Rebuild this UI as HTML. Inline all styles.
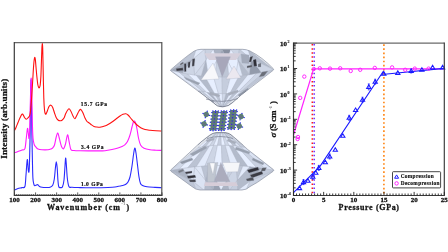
<!DOCTYPE html>
<html><head><meta charset="utf-8"><title>Raman and conductivity under pressure</title>
<style>html,body{margin:0;padding:0;background:#fff;}body{width:448px;height:252px;overflow:hidden;}svg{display:block;}</style>
</head><body>
<svg width="448" height="252" viewBox="0 0 448 252">
<defs><linearGradient id="dg1" x1="0" y1="0" x2="0" y2="1"><stop offset="0" stop-color="#eef0f4"/><stop offset="0.5" stop-color="#d6dae2"/><stop offset="1" stop-color="#e8eaee"/></linearGradient><linearGradient id="dg2" x1="0" y1="0" x2="1" y2="1"><stop offset="0" stop-color="#f4f5f8"/><stop offset="1" stop-color="#c9cdd6"/></linearGradient></defs>
<rect width="448" height="252" fill="#fff"/>
<path d="M14.50,190.00 C15.08,189.77 16.75,189.00 18.00,188.60 C19.25,188.20 20.85,187.95 22.00,187.60 C23.15,187.25 24.23,188.60 24.90,186.50 C25.57,184.40 25.60,179.50 26.00,175.00 C26.40,170.50 26.90,160.17 27.30,159.50 C27.70,158.83 28.07,169.58 28.40,171.00 C28.73,172.42 29.02,174.00 29.30,168.00 C29.58,162.00 29.88,146.33 30.10,135.00 C30.32,123.67 30.46,109.25 30.60,100.00 C30.74,90.75 30.82,79.50 30.95,79.50 C31.08,79.50 31.24,90.75 31.40,100.00 C31.56,109.25 31.73,125.00 31.90,135.00 C32.07,145.00 32.23,152.83 32.40,160.00 C32.57,167.17 32.67,174.00 32.90,178.00 C33.13,182.00 33.48,182.72 33.80,184.00 C34.12,185.28 34.35,185.53 34.80,185.70 C35.25,185.87 36.00,185.17 36.50,185.00 C37.00,184.83 37.30,184.45 37.80,184.70 C38.30,184.95 38.80,186.07 39.50,186.50 C40.20,186.93 40.92,187.13 42.00,187.30 C43.08,187.47 44.67,187.50 46.00,187.50 C47.33,187.50 48.88,187.67 50.00,187.30 C51.12,186.93 51.98,186.68 52.70,185.30 C53.42,183.92 53.85,181.88 54.30,179.00 C54.75,176.12 55.07,170.85 55.40,168.00 C55.73,165.15 56.00,161.90 56.30,161.90 C56.60,161.90 56.93,164.98 57.20,168.00 C57.47,171.02 57.63,176.87 57.90,180.00 C58.17,183.13 58.37,185.53 58.80,186.80 C59.23,188.07 59.88,187.60 60.50,187.60 C61.12,187.60 61.92,188.07 62.50,186.80 C63.08,185.53 63.58,183.47 64.00,180.00 C64.42,176.53 64.73,169.67 65.00,166.00 C65.27,162.33 65.38,158.33 65.60,158.00 C65.82,157.67 66.02,160.67 66.30,164.00 C66.58,167.33 66.87,174.25 67.30,178.00 C67.73,181.75 68.12,184.95 68.90,186.50 C69.68,188.05 70.15,187.12 72.00,187.30 C73.85,187.48 77.00,187.52 80.00,187.60 C83.00,187.68 86.67,187.78 90.00,187.80 C93.33,187.82 97.00,187.75 100.00,187.70 C103.00,187.65 105.50,187.62 108.00,187.50 C110.50,187.38 113.00,187.25 115.00,187.00 C117.00,186.75 118.58,186.28 120.00,186.00 C121.42,185.72 122.53,185.58 123.50,185.30 C124.47,185.02 125.05,184.85 125.80,184.30 C126.55,183.75 127.30,183.22 128.00,182.00 C128.70,180.78 129.33,179.67 130.00,177.00 C130.67,174.33 131.40,169.83 132.00,166.00 C132.60,162.17 133.13,157.00 133.60,154.00 C134.07,151.00 134.40,148.17 134.80,148.00 C135.20,147.83 135.55,150.17 136.00,153.00 C136.45,155.83 137.00,161.00 137.50,165.00 C138.00,169.00 138.50,173.92 139.00,177.00 C139.50,180.08 139.92,182.08 140.50,183.50 C141.08,184.92 141.42,184.95 142.50,185.50 C143.58,186.05 144.92,186.48 147.00,186.80 C149.08,187.12 152.58,187.25 155.00,187.40 C157.42,187.55 160.42,187.65 161.50,187.70" fill="none" stroke="#2a2aff" stroke-width="1.1" stroke-linejoin="round"/>
<path d="M14.50,152.80 C15.08,152.58 16.75,151.97 18.00,151.50 C19.25,151.03 20.85,150.48 22.00,150.00 C23.15,149.52 24.18,150.60 24.90,148.60 C25.62,146.60 25.87,141.35 26.30,138.00 C26.73,134.65 27.17,129.33 27.50,128.50 C27.83,127.67 28.05,131.33 28.30,133.00 C28.55,134.67 28.77,139.00 29.00,138.50 C29.23,138.00 29.47,136.42 29.70,130.00 C29.93,123.58 30.17,108.62 30.40,100.00 C30.63,91.38 30.87,79.63 31.10,78.30 C31.33,76.97 31.60,85.05 31.80,92.00 C32.00,98.95 32.10,112.33 32.30,120.00 C32.50,127.67 32.68,133.92 33.00,138.00 C33.32,142.08 33.73,143.02 34.20,144.50 C34.67,145.98 35.17,146.15 35.80,146.90 C36.43,147.65 36.97,148.52 38.00,149.00 C39.03,149.48 40.33,149.67 42.00,149.80 C43.67,149.93 46.50,149.93 48.00,149.80 C49.50,149.67 50.22,149.32 51.00,149.00 C51.78,148.68 52.12,148.57 52.70,147.90 C53.28,147.23 53.95,146.65 54.50,145.00 C55.05,143.35 55.48,140.00 56.00,138.00 C56.52,136.00 57.10,133.17 57.60,133.00 C58.10,132.83 58.60,135.67 59.00,137.00 C59.40,138.33 59.58,139.42 60.00,141.00 C60.42,142.58 60.92,145.20 61.50,146.50 C62.08,147.80 62.83,149.22 63.50,148.80 C64.17,148.38 64.83,146.32 65.50,144.00 C66.17,141.68 66.92,135.40 67.50,134.90 C68.08,134.40 68.43,138.57 69.00,141.00 C69.57,143.43 70.07,147.92 70.90,149.50 C71.73,151.08 72.48,150.28 74.00,150.50 C75.52,150.72 77.33,150.73 80.00,150.80 C82.67,150.87 86.67,150.88 90.00,150.90 C93.33,150.92 97.50,150.92 100.00,150.90 C102.50,150.88 103.00,151.03 105.00,150.80 C107.00,150.57 109.83,149.97 112.00,149.50 C114.17,149.03 116.33,148.50 118.00,148.00 C119.67,147.50 120.87,147.03 122.00,146.50 C123.13,145.97 123.88,145.63 124.80,144.80 C125.72,143.97 126.63,143.13 127.50,141.50 C128.37,139.87 129.25,137.42 130.00,135.00 C130.75,132.58 131.43,129.17 132.00,127.00 C132.57,124.83 133.00,123.00 133.40,122.00 C133.80,121.00 134.03,120.83 134.40,121.00 C134.77,121.17 135.17,121.67 135.60,123.00 C136.03,124.33 136.52,126.50 137.00,129.00 C137.48,131.50 137.88,135.28 138.50,138.00 C139.12,140.72 139.78,143.58 140.70,145.30 C141.62,147.02 142.45,147.55 144.00,148.30 C145.55,149.05 148.00,149.48 150.00,149.80 C152.00,150.12 154.08,150.10 156.00,150.20 C157.92,150.30 160.58,150.37 161.50,150.40" fill="none" stroke="#ff1aff" stroke-width="1.1" stroke-linejoin="round"/>
<path d="M14.50,130.60 C14.75,130.08 15.42,128.85 16.00,127.50 C16.58,126.15 17.33,124.12 18.00,122.50 C18.67,120.88 19.33,119.18 20.00,117.80 C20.67,116.42 21.47,114.70 22.00,114.20 C22.53,113.70 22.78,114.25 23.20,114.80 C23.62,115.35 23.98,116.77 24.50,117.50 C25.02,118.23 25.72,119.15 26.30,119.20 C26.88,119.25 27.40,118.53 28.00,117.80 C28.60,117.07 29.40,116.77 29.90,114.80 C30.40,112.83 30.65,109.80 31.00,106.00 C31.35,102.20 31.70,96.50 32.00,92.00 C32.30,87.50 32.53,83.33 32.80,79.00 C33.07,74.67 33.35,69.33 33.60,66.00 C33.85,62.67 34.10,60.45 34.30,59.00 C34.50,57.55 34.63,57.30 34.80,57.30 C34.97,57.30 35.10,57.38 35.30,59.00 C35.50,60.62 35.75,64.17 36.00,67.00 C36.25,69.83 36.50,73.08 36.80,76.00 C37.10,78.92 37.48,82.58 37.80,84.50 C38.12,86.42 38.43,87.00 38.70,87.50 C38.97,88.00 39.15,87.92 39.40,87.50 C39.65,87.08 39.95,86.92 40.20,85.00 C40.45,83.08 40.70,79.83 40.90,76.00 C41.10,72.17 41.23,66.67 41.40,62.00 C41.57,57.33 41.75,51.13 41.90,48.00 C42.05,44.87 42.17,43.20 42.30,43.20 C42.43,43.20 42.55,43.20 42.70,48.00 C42.85,52.80 43.02,63.67 43.20,72.00 C43.38,80.33 43.58,91.67 43.80,98.00 C44.02,104.33 44.23,107.33 44.50,110.00 C44.77,112.67 45.10,113.42 45.40,114.00 C45.70,114.58 45.95,114.08 46.30,113.50 C46.65,112.92 47.05,111.67 47.50,110.50 C47.95,109.33 48.43,107.38 49.00,106.50 C49.57,105.62 50.28,105.03 50.90,105.20 C51.52,105.37 52.10,106.20 52.70,107.50 C53.30,108.80 53.90,111.28 54.50,113.00 C55.10,114.72 55.67,116.60 56.30,117.80 C56.93,119.00 57.68,119.70 58.30,120.20 C58.92,120.70 59.38,120.80 60.00,120.80 C60.62,120.80 61.33,120.67 62.00,120.20 C62.67,119.73 63.33,119.20 64.00,118.00 C64.67,116.80 65.18,114.53 66.00,113.00 C66.82,111.47 68.07,109.05 68.90,108.80 C69.73,108.55 70.32,110.30 71.00,111.50 C71.68,112.70 72.35,114.80 73.00,116.00 C73.65,117.20 74.23,118.87 74.90,118.70 C75.57,118.53 76.32,116.28 77.00,115.00 C77.68,113.72 78.37,111.93 79.00,111.00 C79.63,110.07 80.13,109.07 80.80,109.40 C81.47,109.73 82.30,111.57 83.00,113.00 C83.70,114.43 84.33,116.58 85.00,118.00 C85.67,119.42 86.37,120.72 87.00,121.50 C87.63,122.28 88.13,122.20 88.80,122.70 C89.47,123.20 90.13,123.87 91.00,124.50 C91.87,125.13 93.05,126.08 94.00,126.50 C94.95,126.92 95.70,126.88 96.70,127.00 C97.70,127.12 98.95,127.28 100.00,127.20 C101.05,127.12 102.07,126.75 103.00,126.50 C103.93,126.25 104.77,126.03 105.60,125.70 C106.43,125.37 106.93,125.12 108.00,124.50 C109.07,123.88 110.67,122.92 112.00,122.00 C113.33,121.08 114.67,120.00 116.00,119.00 C117.33,118.00 118.83,116.78 120.00,116.00 C121.17,115.22 122.03,114.67 123.00,114.30 C123.97,113.93 124.97,113.68 125.80,113.80 C126.63,113.92 127.13,114.22 128.00,115.00 C128.87,115.78 130.00,117.33 131.00,118.50 C132.00,119.67 133.00,120.92 134.00,122.00 C135.00,123.08 135.88,124.05 137.00,125.00 C138.12,125.95 139.37,126.95 140.70,127.70 C142.03,128.45 143.45,129.07 145.00,129.50 C146.55,129.93 148.17,130.08 150.00,130.30 C151.83,130.52 154.08,130.68 156.00,130.80 C157.92,130.92 160.58,130.97 161.50,131.00" fill="none" stroke="#ff1010" stroke-width="1.1" stroke-linejoin="round"/>
<path d="M14.3,42.6H161.8" stroke="#6a6a6a" stroke-width="1.1"/>
<path d="M161.8,42.1V195.4" stroke="#505050" stroke-width="1.2"/>
<path d="M14.3,42.1V195.4H162.4" fill="none" stroke="#3a3a3a" stroke-width="1.2"/>
<path d="M14.50,195.4V192.40 M16.61,195.4V194.10 M18.71,195.4V194.10 M20.82,195.4V194.10 M22.93,195.4V194.10 M25.04,195.4V194.10 M27.14,195.4V194.10 M29.25,195.4V194.10 M31.36,195.4V194.10 M33.46,195.4V194.10 M35.57,195.4V192.40 M37.68,195.4V194.10 M39.78,195.4V194.10 M41.89,195.4V194.10 M44.00,195.4V194.10 M46.11,195.4V194.10 M48.21,195.4V194.10 M50.32,195.4V194.10 M52.43,195.4V194.10 M54.53,195.4V194.10 M56.64,195.4V192.40 M58.75,195.4V194.10 M60.85,195.4V194.10 M62.96,195.4V194.10 M65.07,195.4V194.10 M67.17,195.4V194.10 M69.28,195.4V194.10 M71.39,195.4V194.10 M73.50,195.4V194.10 M75.60,195.4V194.10 M77.71,195.4V192.40 M79.82,195.4V194.10 M81.92,195.4V194.10 M84.03,195.4V194.10 M86.14,195.4V194.10 M88.25,195.4V194.10 M90.35,195.4V194.10 M92.46,195.4V194.10 M94.57,195.4V194.10 M96.67,195.4V194.10 M98.78,195.4V192.40 M100.89,195.4V194.10 M102.99,195.4V194.10 M105.10,195.4V194.10 M107.21,195.4V194.10 M109.31,195.4V194.10 M111.42,195.4V194.10 M113.53,195.4V194.10 M115.64,195.4V194.10 M117.74,195.4V194.10 M119.85,195.4V192.40 M121.96,195.4V194.10 M124.06,195.4V194.10 M126.17,195.4V194.10 M128.28,195.4V194.10 M130.38,195.4V194.10 M132.49,195.4V194.10 M134.60,195.4V194.10 M136.71,195.4V194.10 M138.81,195.4V194.10 M140.92,195.4V192.40 M143.03,195.4V194.10 M145.13,195.4V194.10 M147.24,195.4V194.10 M149.35,195.4V194.10 M151.46,195.4V194.10 M153.56,195.4V194.10 M155.67,195.4V194.10 M157.78,195.4V194.10 M159.88,195.4V194.10 M161.99,195.4V192.40" stroke="#3a3a3a" stroke-width="0.8"/>
<g font-family="Liberation Serif, serif" font-weight="bold" font-size="7" text-anchor="middle" fill="#111" stroke="#111" stroke-width="0.28"><text x="14.50" y="201.9">100</text><text x="35.57" y="201.9">200</text><text x="56.64" y="201.9">300</text><text x="77.71" y="201.9">400</text><text x="98.78" y="201.9">500</text><text x="119.85" y="201.9">600</text><text x="140.92" y="201.9">700</text><text x="161.99" y="201.9">800</text></g>
<g font-family="Liberation Serif, serif" font-weight="bold" font-size="8" fill="#111" stroke="#111" stroke-width="0.28"><text x="46.9" y="210.4" textLength="73" lengthAdjust="spacing">Wavenumber (cm</text><text x="121.3" y="205.4" font-size="4.4" textLength="4.2" lengthAdjust="spacingAndGlyphs" fill="#9a9a9a" stroke="none">-1</text><text x="126.6" y="210.4">)</text></g>
<text transform="translate(6.8,158.7) rotate(-90)" font-family="Liberation Serif, serif" font-weight="bold" font-size="9.1" fill="#111" stroke="#111" stroke-width="0.28" textLength="80" lengthAdjust="spacing">Intensity (arb.units)</text>
<g font-family="Liberation Serif, serif" font-weight="bold" font-size="5.5" fill="#111" stroke="#111" stroke-width="0.2" letter-spacing="0.3"><text x="80.8" y="106.4" textLength="26.5" lengthAdjust="spacing">15.7 GPa</text><text x="80.9" y="149.3" textLength="23" lengthAdjust="spacing">3.4 GPa</text><text x="80.9" y="186" textLength="22.2" lengthAdjust="spacing">1.0 GPa</text></g>
<clipPath id="c1"><path d="M170.6,69.9 C178,63.5 186,56.5 194,51.2 Q197.5,49.3 201,49.3 L242.5,49.3 Q246.5,49.4 250,51 C258,55 266,61 273.5,68.9 Q273.8,69.6 273.2,70.3 L241.2,95 L233,102.3 Q228.5,106.8 222.5,107 Q216.5,106.8 214,103.3 L202,94 L170.9,70.9 Q170.3,70.4 170.6,69.9 Z"/></clipPath><clipPath id="c2"><path d="M170.5,170.2 L192.7,149.6 C198,144.5 203,140 207,137.2 C210.5,134.5 213,132.8 216,132.6 L225.5,132.6 C228.5,132.8 231,134.5 234,137.2 C238,140.5 243,145 247.6,149.4 L273.4,169.6 Q274.2,170.6 273,171.4 L257.5,182.3 L250,186.5 Q246.5,189.9 242,190 L200,190 Q195.5,189.8 191.6,186.3 L171,171.3 Q170.2,170.8 170.5,170.2 Z"/></clipPath>
<g><path d="M170.6,69.9 C178,63.5 186,56.5 194,51.2 Q197.5,49.3 201,49.3 L242.5,49.3 Q246.5,49.4 250,51 C258,55 266,61 273.5,68.9 Q273.8,69.6 273.2,70.3 L241.2,95 L233,102.3 Q228.5,106.8 222.5,107 Q216.5,106.8 214,103.3 L202,94 L170.9,70.9 Q170.3,70.4 170.6,69.9 Z" fill="#e3e7ee"/><g clip-path="url(#c1)" stroke="#a6aebd" stroke-width="0.3" stroke-linejoin="round"><path d="M170.60,70.20 L179.17,72.28 L203.00,91.65 L199.15,90.72 Z" fill="#e2eafa" /><path d="M199.15,90.72 L203.00,91.65 L222.50,107.50 Z" fill="#c5cddd" /><path d="M179.17,72.28 L187.75,73.97 L206.86,92.41 L203.00,91.65 Z" fill="#c9d1e1" /><path d="M203.00,91.65 L206.86,92.41 L222.50,107.50 Z" fill="#e7efff" /><path d="M187.75,73.97 L196.32,75.28 L210.72,93.00 L206.86,92.41 Z" fill="#e7efff" /><path d="M206.86,92.41 L210.72,93.00 L222.50,107.50 Z" fill="#acb4c4" /><path d="M196.32,75.28 L204.90,76.19 L214.58,93.41 L210.72,93.00 Z" fill="#b3bbcb" /><path d="M210.72,93.00 L214.58,93.41 L222.50,107.50 Z" fill="#dfe7f7" /><path d="M204.90,76.19 L213.47,76.71 L218.44,93.65 L214.58,93.41 Z" fill="#e7efff" /><path d="M214.58,93.41 L218.44,93.65 L222.50,107.50 Z" fill="#bec6d6" /><path d="M213.47,76.71 L222.05,76.85 L222.30,93.71 L218.44,93.65 Z" fill="#d7dfef" /><path d="M218.44,93.65 L222.30,93.71 L222.50,107.50 Z" fill="#e7efff" /><path d="M222.05,76.85 L230.62,76.60 L226.16,93.59 L222.30,93.71 Z" fill="#c5cddd" /><path d="M222.30,93.71 L226.16,93.59 L222.50,107.50 Z" fill="#d0d8e8" /><path d="M230.62,76.60 L239.20,75.96 L230.01,93.31 L226.16,93.59 Z" fill="#e7efff" /><path d="M226.16,93.59 L230.01,93.31 L222.50,107.50 Z" fill="#b0b8c8" /><path d="M239.20,75.96 L247.78,74.92 L233.87,92.84 L230.01,93.31 Z" fill="#bbc3d3" /><path d="M230.01,93.31 L233.87,92.84 L222.50,107.50 Z" fill="#e6eefe" /><path d="M247.78,74.92 L256.35,73.51 L237.73,92.20 L233.87,92.84 Z" fill="#e2eafa" /><path d="M233.87,92.84 L237.73,92.20 L222.50,107.50 Z" fill="#bbc3d3" /><path d="M256.35,73.51 L264.93,71.70 L241.59,91.39 L237.73,92.20 Z" fill="#cdd5e5" /><path d="M237.73,92.20 L241.59,91.39 L222.50,107.50 Z" fill="#e7efff" /><path d="M264.93,71.70 L273.50,69.50 L245.45,90.40 L241.59,91.39 Z" fill="#bec6d6" /><path d="M241.59,91.39 L245.45,90.40 L222.50,107.50 Z" fill="#c9d1e1" /><path d="M196.00,49.30 L204.67,49.30 L192.89,59.26 Z" fill="#e2eafa" /><path d="M204.67,49.30 L213.33,49.30 L205.84,60.46 Z" fill="#c9d1e1" /><path d="M213.33,49.30 L222.00,49.30 L216.63,60.84 Z" fill="#acb4c4" /><path d="M222.00,49.30 L230.67,49.30 L227.42,60.80 Z" fill="#8890a0" /><path d="M230.67,49.30 L239.33,49.30 L238.20,60.34 Z" fill="#cdd5e5" /><path d="M239.33,49.30 L248.00,49.30 L251.15,59.03 Z" fill="#e2eafa" /><path d="M196.00,49.30 L183.30,59.75 L170.60,70.20 L192.89,59.26 Z" fill="#bec6d6" /><path d="M204.67,49.30 L192.89,59.26 L194.61,75.05 L205.84,60.46 Z" fill="#d4dcec" /><path d="M213.33,49.30 L205.84,60.46 L208.33,76.45 L216.63,60.84 Z" fill="#e7efff" /><path d="M222.00,49.30 L216.63,60.84 L222.05,76.85 L227.42,60.80 Z" fill="#9ea6b6" /><path d="M230.67,49.30 L227.42,60.80 L235.77,76.26 L238.20,60.34 Z" fill="#e6eefe" /><path d="M239.33,49.30 L238.20,60.34 L249.49,74.67 L251.15,59.03 Z" fill="#c5cddd" /><path d="M248.00,49.30 L251.15,59.03 L273.50,69.50 L260.75,59.40 Z" fill="#b3bbcb" /><path d="M192.89,59.26 L170.60,70.20 L182.60,73.00 Z" fill="#a1a9b9" /><path d="M192.89,59.26 L182.60,73.00 L194.61,75.05 Z" fill="#cdd5e5" /><path d="M205.84,60.46 L194.61,75.05 L201.47,75.87 Z" fill="#d0d8e8" /><path d="M205.84,60.46 L201.47,75.87 L208.33,76.45 Z" fill="#acb4c4" /><path d="M216.63,60.84 L208.33,76.45 L215.19,76.77 Z" fill="#e7efff" /><path d="M216.63,60.84 L215.19,76.77 L222.05,76.85 Z" fill="#c9d1e1" /><path d="M227.42,60.80 L222.05,76.85 L228.91,76.68 Z" fill="#bec6d6" /><path d="M227.42,60.80 L228.91,76.68 L235.77,76.26 Z" fill="#e6eefe" /><path d="M238.20,60.34 L235.77,76.26 L242.63,75.59 Z" fill="#dfe7f7" /><path d="M238.20,60.34 L242.63,75.59 L249.49,74.67 Z" fill="#b3bbcb" /><path d="M251.15,59.03 L249.49,74.67 L261.50,72.47 Z" fill="#939bab" /><path d="M251.15,59.03 L261.50,72.47 L273.50,69.50 Z" fill="#cdd5e5" /><path d="M204.00,53.20 L241.00,53.20 L236.00,60.00 L209.00,60.00 Z" fill="#d6d0dc" stroke="none"/><path d="M215.50,56.80 L230.40,56.80 L222.30,76.40 Z" fill="#a7a7ba" /><path d="M201.00,80.00 L213.00,63.00 L219.00,79.00 Z" fill="#f7f8fb" /><path d="M226.00,79.00 L234.00,66.00 L241.00,78.00 Z" fill="#ebe8f0" /><path d="M241.00,54.00 L249.00,55.00 L249.00,63.50 L242.00,63.00 Z" fill="#a3aaba" /><path d="M184.20,63.80 L186.00,63.40 L186.20,71.50 L184.40,71.80 Z" fill="#26262e" /><path d="M188.20,62.20 L190.20,61.80 L189.80,67.60 L188.00,67.80 Z" fill="#2c2c34" /><path d="M176.00,68.60 L183.00,67.80 L183.20,70.40 L176.50,71.00 Z" fill="#3a3a42" /><path d="M192.40,59.00 L195.00,58.60 L194.20,66.00 L192.00,66.20 Z" fill="#3c3c44" /><path d="M180.00,64.00 L183.00,62.00 L183.60,63.20 L180.60,65.20 Z" fill="#55565e" /><path d="M250.00,57.00 L253.00,56.00 L251.00,62.00 L249.00,62.00 Z" fill="#3a3a42" /><path d="M253.00,60.00 L256.00,59.00 L257.00,66.00 L254.00,66.50 Z" fill="#2e2e36" /><path d="M247.00,66.00 L252.00,65.00 L252.00,67.00 L247.00,68.00 Z" fill="#50525a" /><path d="M258.00,64.00 L261.00,63.00 L261.00,67.00 L258.00,67.00 Z" fill="#6a6e78" /><path d="M262.00,72.00 L268.00,71.00 L264.00,76.00 L259.00,77.00 Z" fill="#6a6e78" /><path d="M184.00,77.00 L200.00,83.00 L198.00,85.00 L186.00,79.50 Z" fill="#9aa2b0" /><path d="M206.00,99.00 L214.00,101.00 L213.00,103.00 L207.00,102.00 Z" fill="#8e96a4" /><path d="M238.00,95.00 L248.00,88.00 L249.00,90.00 L240.00,97.00 Z" fill="#8e96a4" /><path d="M210.00,92.00 L220.00,95.00 L219.00,97.00 L210.00,94.50 Z" fill="#a8aebb" /><path d="M228.00,93.00 L238.00,90.00 L238.00,92.00 L229.00,95.50 Z" fill="#a8aebb" /></g><path d="M170.6,69.9 C178,63.5 186,56.5 194,51.2 Q197.5,49.3 201,49.3 L242.5,49.3 Q246.5,49.4 250,51 C258,55 266,61 273.5,68.9 Q273.8,69.6 273.2,70.3 L241.2,95 L233,102.3 Q228.5,106.8 222.5,107 Q216.5,106.8 214,103.3 L202,94 L170.9,70.9 Q170.3,70.4 170.6,69.9 Z" fill="none" stroke="#8f96a6" stroke-width="0.7"/><path d="M198,91 L214,103.3 Q216.5,106.8 222.5,107 Q228.5,106.8 233,102.3 L246,91.3" fill="none" stroke="#6c7282" stroke-width="0.9" clip-path="url(#c1)"/><path d="M206,99 Q222,104 238,98.5" fill="none" stroke="#7a8090" stroke-width="0.7"/><path d="M170.5,170.2 L192.7,149.6 C198,144.5 203,140 207,137.2 C210.5,134.5 213,132.8 216,132.6 L225.5,132.6 C228.5,132.8 231,134.5 234,137.2 C238,140.5 243,145 247.6,149.4 L273.4,169.6 Q274.2,170.6 273,171.4 L257.5,182.3 L250,186.5 Q246.5,189.9 242,190 L200,190 Q195.5,189.8 191.6,186.3 L171,171.3 Q170.2,170.8 170.5,170.2 Z" fill="#e0e4eb"/><g clip-path="url(#c2)" stroke="#a6aebd" stroke-width="0.3" stroke-linejoin="round"><path d="M170.50,170.60 L179.11,169.05 L202.04,146.75 L198.17,147.44 Z" fill="#d0d8e8" /><path d="M198.17,147.44 L202.04,146.75 L220.80,128.50 Z" fill="#e7efff" /><path d="M179.11,169.05 L187.72,167.77 L205.91,146.17 L202.04,146.75 Z" fill="#e6eefe" /><path d="M202.04,146.75 L205.91,146.17 L220.80,128.50 Z" fill="#c2cada" /><path d="M187.72,167.77 L196.32,166.78 L209.79,145.72 L205.91,146.17 Z" fill="#bbc3d3" /><path d="M205.91,146.17 L209.79,145.72 L220.80,128.50 Z" fill="#dfe7f7" /><path d="M196.32,166.78 L204.93,166.06 L213.66,145.40 L209.79,145.72 Z" fill="#e2eafa" /><path d="M209.79,145.72 L213.66,145.40 L220.80,128.50 Z" fill="#cdd5e5" /><path d="M204.93,166.06 L213.54,165.61 L217.53,145.20 L213.66,145.40 Z" fill="#cdd5e5" /><path d="M213.66,145.40 L217.53,145.20 L220.80,128.50 Z" fill="#e7efff" /><path d="M213.54,165.61 L222.15,165.45 L221.41,145.13 L217.53,145.20 Z" fill="#e7efff" /><path d="M217.53,145.20 L221.41,145.13 L220.80,128.50 Z" fill="#c5cddd" /><path d="M222.15,165.45 L230.76,165.56 L225.28,145.18 L221.41,145.13 Z" fill="#c5cddd" /><path d="M221.41,145.13 L225.28,145.18 L220.80,128.50 Z" fill="#e7efff" /><path d="M230.76,165.56 L239.37,165.96 L229.16,145.35 L225.28,145.18 Z" fill="#e2eafa" /><path d="M225.28,145.18 L229.16,145.35 L220.80,128.50 Z" fill="#d0d8e8" /><path d="M239.37,165.96 L247.98,166.62 L233.03,145.66 L229.16,145.35 Z" fill="#b3bbcb" /><path d="M229.16,145.35 L233.03,145.66 L220.80,128.50 Z" fill="#e7efff" /><path d="M247.98,166.62 L256.58,167.57 L236.90,146.08 L233.03,145.66 Z" fill="#e7efff" /><path d="M233.03,145.66 L236.90,146.08 L220.80,128.50 Z" fill="#bbc3d3" /><path d="M256.58,167.57 L265.19,168.80 L240.78,146.63 L236.90,146.08 Z" fill="#c9d1e1" /><path d="M236.90,146.08 L240.78,146.63 L220.80,128.50 Z" fill="#dbe3f3" /><path d="M265.19,168.80 L273.80,170.30 L244.65,147.31 L240.78,146.63 Z" fill="#dbe3f3" /><path d="M240.78,146.63 L244.65,147.31 L220.80,128.50 Z" fill="#c5cddd" /><path d="M196.00,190.20 L204.33,190.20 L192.77,181.09 Z" fill="#cdd5e5" /><path d="M204.33,190.20 L212.67,190.20 L205.56,180.17 Z" fill="#b3bbcb" /><path d="M212.67,190.20 L221.00,190.20 L216.17,179.85 Z" fill="#9aa2b2" /><path d="M221.00,190.20 L229.33,190.20 L226.79,179.83 Z" fill="#acb4c4" /><path d="M229.33,190.20 L237.67,190.20 L237.41,180.12 Z" fill="#c5cddd" /><path d="M237.67,190.20 L246.00,190.20 L250.20,180.99 Z" fill="#e2eafa" /><path d="M196.00,190.20 L183.25,180.40 L170.50,170.60 L192.77,181.09 Z" fill="#bec6d6" /><path d="M204.33,190.20 L192.77,181.09 L194.60,166.95 L205.56,180.17 Z" fill="#dbe3f3" /><path d="M212.67,190.20 L205.56,180.17 L208.38,165.85 L216.17,179.85 Z" fill="#acb4c4" /><path d="M221.00,190.20 L216.17,179.85 L222.15,165.45 L226.79,179.83 Z" fill="#e7efff" /><path d="M229.33,190.20 L226.79,179.83 L235.92,165.77 L237.41,180.12 Z" fill="#cdd5e5" /><path d="M237.67,190.20 L237.41,180.12 L249.70,166.79 L250.20,180.99 Z" fill="#b3bbcb" /><path d="M246.00,190.20 L250.20,180.99 L273.80,170.30 L259.90,180.25 Z" fill="#c9d1e1" /><path d="M192.77,181.09 L170.50,170.60 L182.55,168.50 Z" fill="#acb4c4" /><path d="M192.77,181.09 L182.55,168.50 L194.60,166.95 Z" fill="#dbe3f3" /><path d="M205.56,180.17 L194.60,166.95 L201.49,166.31 Z" fill="#dfe7f7" /><path d="M205.56,180.17 L201.49,166.31 L208.38,165.85 Z" fill="#bbc3d3" /><path d="M216.17,179.85 L208.38,165.85 L215.26,165.56 Z" fill="#cdd5e5" /><path d="M216.17,179.85 L215.26,165.56 L222.15,165.45 Z" fill="#e7efff" /><path d="M226.79,179.83 L222.15,165.45 L229.04,165.52 Z" fill="#e7efff" /><path d="M226.79,179.83 L229.04,165.52 L235.92,165.77 Z" fill="#c9d1e1" /><path d="M237.41,180.12 L235.92,165.77 L242.81,166.19 Z" fill="#bec6d6" /><path d="M237.41,180.12 L242.81,166.19 L249.70,166.79 Z" fill="#e2eafa" /><path d="M250.20,180.99 L249.70,166.79 L261.75,168.27 Z" fill="#a1a9b9" /><path d="M250.20,180.99 L261.75,168.27 L273.80,170.30 Z" fill="#c2cada" /><path d="M220.80,162.50 L214.20,181.70 L230.00,181.70 Z" fill="#abacbd" /><path d="M207.50,163.00 L218.00,162.50 L214.20,181.70 L207.50,182.00 Z" fill="#c0c6d0" /><path d="M222.50,162.50 L240.00,162.50 L238.00,171.70 L226.00,172.00 Z" fill="#f5f6f9" /><path d="M205.00,182.20 L236.00,182.20 L238.00,186.00 L204.00,186.00 Z" fill="#d6cdd8" stroke="none"/><path d="M209.70,163.00 L215.00,163.00 L213.00,175.00 Z" fill="#f8f9fb" /><path d="M185.00,172.00 L192.00,171.00 L192.00,173.00 L186.00,174.00 Z" fill="#3a3a42" /><path d="M187.00,176.00 L195.00,175.00 L196.00,177.50 L188.00,178.50 Z" fill="#2c2c34" /><path d="M189.00,180.00 L195.50,179.50 L195.80,182.00 L190.00,182.00 Z" fill="#45464e" /><path d="M247.00,170.00 L258.00,167.00 L259.00,170.00 L249.00,173.00 Z" fill="#2e2e36" /><path d="M250.00,175.00 L262.00,171.00 L263.00,174.00 L252.00,178.00 Z" fill="#3a3a42" /><path d="M246.00,179.00 L253.00,177.00 L254.00,180.50 L247.00,181.00 Z" fill="#50525a" /><path d="M262.00,168.00 L266.50,167.50 L265.00,171.00 L261.00,171.00 Z" fill="#5a5c64" /><path d="M178.00,171.00 L183.00,169.00 L184.00,171.00 L179.00,173.00 Z" fill="#7a7e88" /><path d="M190.00,154.00 L205.00,146.00 L207.00,148.00 L193.00,156.00 Z" fill="#9aa2b0" /><path d="M236.00,147.00 L250.00,152.00 L249.00,154.00 L235.00,149.50 Z" fill="#9aa2b0" /><path d="M180.00,162.00 L192.00,158.00 L193.00,160.00 L182.00,164.00 Z" fill="#8e96a4" /><path d="M253.00,158.00 L264.00,163.00 L263.00,165.00 L252.00,160.00 Z" fill="#8e96a4" /><path d="M206.00,140.00 L214.00,138.00 L214.00,140.00 L207.00,142.00 Z" fill="#a8aebb" /><path d="M228.00,139.00 L236.00,142.00 L235.00,144.00 L227.00,141.00 Z" fill="#a8aebb" /></g><path d="M170.5,170.2 L192.7,149.6 C198,144.5 203,140 207,137.2 C210.5,134.5 213,132.8 216,132.6 L225.5,132.6 C228.5,132.8 231,134.5 234,137.2 C238,140.5 243,145 247.6,149.4 L273.4,169.6 Q274.2,170.6 273,171.4 L257.5,182.3 L250,186.5 Q246.5,189.9 242,190 L200,190 Q195.5,189.8 191.6,186.3 L171,171.3 Q170.2,170.8 170.5,170.2 Z" fill="none" stroke="#8f96a6" stroke-width="0.7"/><path d="M198,144.5 Q203,140 207,137.2 C210.5,134.5 213,132.8 216,132.6 L225.5,132.6 C228.5,132.8 231,134.5 234,137.2 Q238,140.5 243,145" fill="none" stroke="#6c7282" stroke-width="0.9" clip-path="url(#c2)"/><path d="M207,138.5 Q220,134.5 233,138.5" fill="none" stroke="#7a8090" stroke-width="0.7"/></g>
<g><path d="M212.90,111.00 L211.78,112.62 L212.45,114.23 L211.33,115.85 L212.00,117.47 L210.88,119.08 L211.55,120.70 L210.43,122.32 L211.10,123.93 L209.97,125.55 L210.65,127.17 L209.53,128.78 L210.20,130.40 L215.90,130.40 L217.00,128.78 L216.30,127.17 L217.40,125.55 L216.70,123.93 L217.80,122.32 L217.10,120.70 L218.20,119.08 L217.50,117.47 L218.60,115.85 L217.90,114.23 L219.00,112.62 L218.30,111.00 Z" fill="#5a7e76" /><path d="M221.30,111.00 L220.18,112.62 L220.85,114.23 L219.72,115.85 L220.40,117.47 L219.28,119.08 L219.95,120.70 L218.83,122.32 L219.50,123.93 L218.38,125.55 L219.05,127.17 L217.93,128.78 L218.60,130.40 L224.10,130.40 L225.22,128.78 L224.53,127.17 L225.65,125.55 L224.97,123.93 L226.08,122.32 L225.40,120.70 L226.52,119.08 L225.83,117.47 L226.95,115.85 L226.27,114.23 L227.38,112.62 L226.70,111.00 Z" fill="#5a7e76" /><path d="M230.70,110.00 L229.58,111.60 L230.25,113.20 L229.12,114.80 L229.80,116.40 L228.68,118.00 L229.35,119.60 L228.22,121.20 L228.90,122.80 L227.78,124.40 L228.45,126.00 L227.32,127.60 L228.00,129.20 L234.30,129.20 L235.39,127.60 L234.68,126.00 L235.78,124.40 L235.07,122.80 L236.16,121.20 L235.45,119.60 L236.54,118.00 L235.83,116.40 L236.92,114.80 L236.22,113.20 L237.31,111.60 L236.60,110.00 Z" fill="#5a7e76" /><path d="M209.55,115.40 L207.54,116.75 L205.30,117.65 L203.95,115.64 L203.05,113.40 L205.06,112.05 L207.30,111.15 L208.65,113.16 Z" fill="#5a7e76" /><path d="M207.35,124.90 L205.34,126.25 L203.10,127.15 L201.75,125.14 L200.85,122.90 L202.86,121.55 L205.10,120.65 L206.45,122.66 Z" fill="#5a7e76" /><path d="M244.25,117.60 L242.24,118.95 L240.00,119.85 L238.65,117.84 L237.75,115.60 L239.76,114.25 L242.00,113.35 L243.35,115.36 Z" fill="#5a7e76" /><path d="M242.55,127.10 L240.54,128.45 L238.30,129.35 L236.95,127.34 L236.05,125.10 L238.06,123.75 L240.30,122.85 L241.65,124.86 Z" fill="#5a7e76" /><circle cx="212.90" cy="111.00" r="0.7" fill="#2727ee"/><circle cx="218.30" cy="111.00" r="0.7" fill="#2727ee"/><circle cx="211.78" cy="112.62" r="0.7" fill="#2727ee"/><circle cx="219.00" cy="112.62" r="0.7" fill="#2727ee"/><circle cx="211.33" cy="115.85" r="0.7" fill="#2727ee"/><circle cx="218.60" cy="115.85" r="0.7" fill="#2727ee"/><circle cx="210.88" cy="119.08" r="0.7" fill="#2727ee"/><circle cx="218.20" cy="119.08" r="0.7" fill="#2727ee"/><circle cx="210.43" cy="122.32" r="0.7" fill="#2727ee"/><circle cx="217.80" cy="122.32" r="0.7" fill="#2727ee"/><circle cx="209.97" cy="125.55" r="0.7" fill="#2727ee"/><circle cx="217.40" cy="125.55" r="0.7" fill="#2727ee"/><circle cx="209.53" cy="128.78" r="0.7" fill="#2727ee"/><circle cx="217.00" cy="128.78" r="0.7" fill="#2727ee"/><circle cx="210.20" cy="130.40" r="0.7" fill="#2727ee"/><circle cx="215.90" cy="130.40" r="0.7" fill="#2727ee"/><circle cx="215.39" cy="112.42" r="0.7" fill="#2727ee"/><circle cx="214.96" cy="115.65" r="0.7" fill="#2727ee"/><circle cx="214.54" cy="118.88" r="0.7" fill="#2727ee"/><circle cx="214.11" cy="122.12" r="0.7" fill="#2727ee"/><circle cx="213.69" cy="125.35" r="0.7" fill="#2727ee"/><circle cx="213.26" cy="128.58" r="0.7" fill="#2727ee"/><circle cx="215.60" cy="110.70" r="0.7" fill="#2727ee"/><circle cx="213.05" cy="130.70" r="0.7" fill="#2727ee"/><circle cx="221.30" cy="111.00" r="0.7" fill="#2727ee"/><circle cx="226.70" cy="111.00" r="0.7" fill="#2727ee"/><circle cx="220.18" cy="112.62" r="0.7" fill="#2727ee"/><circle cx="227.38" cy="112.62" r="0.7" fill="#2727ee"/><circle cx="219.72" cy="115.85" r="0.7" fill="#2727ee"/><circle cx="226.95" cy="115.85" r="0.7" fill="#2727ee"/><circle cx="219.28" cy="119.08" r="0.7" fill="#2727ee"/><circle cx="226.52" cy="119.08" r="0.7" fill="#2727ee"/><circle cx="218.83" cy="122.32" r="0.7" fill="#2727ee"/><circle cx="226.08" cy="122.32" r="0.7" fill="#2727ee"/><circle cx="218.38" cy="125.55" r="0.7" fill="#2727ee"/><circle cx="225.65" cy="125.55" r="0.7" fill="#2727ee"/><circle cx="217.93" cy="128.78" r="0.7" fill="#2727ee"/><circle cx="225.22" cy="128.78" r="0.7" fill="#2727ee"/><circle cx="218.60" cy="130.40" r="0.7" fill="#2727ee"/><circle cx="224.10" cy="130.40" r="0.7" fill="#2727ee"/><circle cx="223.78" cy="112.42" r="0.7" fill="#2727ee"/><circle cx="223.34" cy="115.65" r="0.7" fill="#2727ee"/><circle cx="222.90" cy="118.88" r="0.7" fill="#2727ee"/><circle cx="222.45" cy="122.12" r="0.7" fill="#2727ee"/><circle cx="222.01" cy="125.35" r="0.7" fill="#2727ee"/><circle cx="221.57" cy="128.58" r="0.7" fill="#2727ee"/><circle cx="224.00" cy="110.70" r="0.7" fill="#2727ee"/><circle cx="221.35" cy="130.70" r="0.7" fill="#2727ee"/><circle cx="230.70" cy="110.00" r="0.7" fill="#2727ee"/><circle cx="236.60" cy="110.00" r="0.7" fill="#2727ee"/><circle cx="229.58" cy="111.60" r="0.7" fill="#2727ee"/><circle cx="237.31" cy="111.60" r="0.7" fill="#2727ee"/><circle cx="229.12" cy="114.80" r="0.7" fill="#2727ee"/><circle cx="236.92" cy="114.80" r="0.7" fill="#2727ee"/><circle cx="228.68" cy="118.00" r="0.7" fill="#2727ee"/><circle cx="236.54" cy="118.00" r="0.7" fill="#2727ee"/><circle cx="228.22" cy="121.20" r="0.7" fill="#2727ee"/><circle cx="236.16" cy="121.20" r="0.7" fill="#2727ee"/><circle cx="227.78" cy="124.40" r="0.7" fill="#2727ee"/><circle cx="235.78" cy="124.40" r="0.7" fill="#2727ee"/><circle cx="227.32" cy="127.60" r="0.7" fill="#2727ee"/><circle cx="235.39" cy="127.60" r="0.7" fill="#2727ee"/><circle cx="228.00" cy="129.20" r="0.7" fill="#2727ee"/><circle cx="234.30" cy="129.20" r="0.7" fill="#2727ee"/><circle cx="233.44" cy="111.40" r="0.7" fill="#2727ee"/><circle cx="233.02" cy="114.60" r="0.7" fill="#2727ee"/><circle cx="232.61" cy="117.80" r="0.7" fill="#2727ee"/><circle cx="232.19" cy="121.00" r="0.7" fill="#2727ee"/><circle cx="231.78" cy="124.20" r="0.7" fill="#2727ee"/><circle cx="231.36" cy="127.40" r="0.7" fill="#2727ee"/><circle cx="233.65" cy="109.70" r="0.7" fill="#2727ee"/><circle cx="231.15" cy="129.50" r="0.7" fill="#2727ee"/><circle cx="209.55" cy="115.40" r="0.7" fill="#2727ee"/><circle cx="205.30" cy="117.65" r="0.7" fill="#2727ee"/><circle cx="203.05" cy="113.40" r="0.7" fill="#2727ee"/><circle cx="207.30" cy="111.15" r="0.7" fill="#2727ee"/><circle cx="207.35" cy="124.90" r="0.7" fill="#2727ee"/><circle cx="203.10" cy="127.15" r="0.7" fill="#2727ee"/><circle cx="200.85" cy="122.90" r="0.7" fill="#2727ee"/><circle cx="205.10" cy="120.65" r="0.7" fill="#2727ee"/><circle cx="244.25" cy="117.60" r="0.7" fill="#2727ee"/><circle cx="240.00" cy="119.85" r="0.7" fill="#2727ee"/><circle cx="237.75" cy="115.60" r="0.7" fill="#2727ee"/><circle cx="242.00" cy="113.35" r="0.7" fill="#2727ee"/><circle cx="242.55" cy="127.10" r="0.7" fill="#2727ee"/><circle cx="238.30" cy="129.35" r="0.7" fill="#2727ee"/><circle cx="236.05" cy="125.10" r="0.7" fill="#2727ee"/><circle cx="240.30" cy="122.85" r="0.7" fill="#2727ee"/><circle cx="214.18" cy="112.62" r="0.5" fill="#8a4f9e"/><circle cx="216.71" cy="112.62" r="0.5" fill="#8a4f9e"/><circle cx="213.75" cy="115.85" r="0.5" fill="#8a4f9e"/><circle cx="216.30" cy="115.85" r="0.5" fill="#8a4f9e"/><circle cx="213.31" cy="119.08" r="0.5" fill="#8a4f9e"/><circle cx="215.88" cy="119.08" r="0.5" fill="#8a4f9e"/><circle cx="212.88" cy="122.32" r="0.5" fill="#8a4f9e"/><circle cx="215.47" cy="122.32" r="0.5" fill="#8a4f9e"/><circle cx="212.44" cy="125.55" r="0.5" fill="#8a4f9e"/><circle cx="215.06" cy="125.55" r="0.5" fill="#8a4f9e"/><circle cx="212.01" cy="128.78" r="0.5" fill="#8a4f9e"/><circle cx="214.64" cy="128.78" r="0.5" fill="#8a4f9e"/><circle cx="222.58" cy="112.62" r="0.5" fill="#8a4f9e"/><circle cx="225.10" cy="112.62" r="0.5" fill="#8a4f9e"/><circle cx="222.13" cy="115.85" r="0.5" fill="#8a4f9e"/><circle cx="224.66" cy="115.85" r="0.5" fill="#8a4f9e"/><circle cx="221.69" cy="119.08" r="0.5" fill="#8a4f9e"/><circle cx="224.22" cy="119.08" r="0.5" fill="#8a4f9e"/><circle cx="221.24" cy="122.32" r="0.5" fill="#8a4f9e"/><circle cx="223.79" cy="122.32" r="0.5" fill="#8a4f9e"/><circle cx="220.80" cy="125.55" r="0.5" fill="#8a4f9e"/><circle cx="223.35" cy="125.55" r="0.5" fill="#8a4f9e"/><circle cx="220.35" cy="128.78" r="0.5" fill="#8a4f9e"/><circle cx="222.91" cy="128.78" r="0.5" fill="#8a4f9e"/><circle cx="232.14" cy="111.60" r="0.5" fill="#8a4f9e"/><circle cx="234.88" cy="111.60" r="0.5" fill="#8a4f9e"/><circle cx="231.70" cy="114.80" r="0.5" fill="#8a4f9e"/><circle cx="234.48" cy="114.80" r="0.5" fill="#8a4f9e"/><circle cx="231.28" cy="118.00" r="0.5" fill="#8a4f9e"/><circle cx="234.07" cy="118.00" r="0.5" fill="#8a4f9e"/><circle cx="230.84" cy="121.20" r="0.5" fill="#8a4f9e"/><circle cx="233.67" cy="121.20" r="0.5" fill="#8a4f9e"/><circle cx="230.41" cy="124.40" r="0.5" fill="#8a4f9e"/><circle cx="233.27" cy="124.40" r="0.5" fill="#8a4f9e"/><circle cx="229.98" cy="127.60" r="0.5" fill="#8a4f9e"/><circle cx="232.87" cy="127.60" r="0.5" fill="#8a4f9e"/><circle cx="205.50" cy="114.00" r="0.5" fill="#8a4f9e"/><circle cx="207.10" cy="114.90" r="0.5" fill="#8a4f9e"/><circle cx="203.30" cy="123.50" r="0.5" fill="#8a4f9e"/><circle cx="204.90" cy="124.40" r="0.5" fill="#8a4f9e"/><circle cx="240.20" cy="116.20" r="0.5" fill="#8a4f9e"/><circle cx="241.80" cy="117.10" r="0.5" fill="#8a4f9e"/><circle cx="238.50" cy="125.70" r="0.5" fill="#8a4f9e"/><circle cx="240.10" cy="126.60" r="0.5" fill="#8a4f9e"/></g>
<line x1="312.3" y1="44.05" x2="312.3" y2="195" stroke="#ff1a1a" stroke-width="1.5" stroke-dasharray="1.5,2.6"/>
<line x1="314.2" y1="44.05" x2="314.2" y2="195" stroke="#6e2aff" stroke-width="1.5" stroke-dasharray="1.5,2.6"/>
<line x1="383.9" y1="44.25" x2="383.9" y2="195" stroke="#ff8a1e" stroke-width="1.7" stroke-dasharray="1.7,2.4"/>
<polyline points="293.5,135 313.6,68.9 443.8,68.9" fill="none" stroke="#ff22ff" stroke-width="1.2"/>
<polyline points="293.5,192.6 320,166.3 383.2,71.5 384.8,74.2 443.8,68.4" fill="none" stroke="#1a1aff" stroke-width="1.1"/>
<g fill="none" stroke="#ff22ff" stroke-width="0.95"><circle cx="298" cy="137" r="1.7"/><circle cx="297.6" cy="139" r="1.7"/><circle cx="300.2" cy="97.9" r="1.7"/><circle cx="304.3" cy="76.6" r="1.7"/><circle cx="313.8" cy="69" r="1.7"/><circle cx="319.8" cy="68.3" r="1.7"/><circle cx="330" cy="68.6" r="1.7"/><circle cx="340.2" cy="68.3" r="1.7"/><circle cx="350.7" cy="71" r="1.7"/><circle cx="360.2" cy="69.8" r="1.7"/><circle cx="374.8" cy="67.9" r="1.7"/><circle cx="392.1" cy="67.4" r="1.7"/><circle cx="405.2" cy="69.8" r="1.7"/><circle cx="414.8" cy="68.6" r="1.7"/><circle cx="428.6" cy="68.6" r="1.7"/></g>
<g fill="none" stroke="#1a1aff" stroke-width="1.05"><path d="M299.5,186.04999999999998 L301.6525,189.6375 L297.3475,189.6375 Z"/><path d="M303.5,180.04999999999998 L305.6525,183.6375 L301.3475,183.6375 Z"/><path d="M307.9,178.75 L310.05249999999995,182.3375 L305.7475,182.3375 Z"/><path d="M312.8,174.75 L314.9525,178.3375 L310.64750000000004,178.3375 Z"/><path d="M315.8,170.75 L317.9525,174.3375 L313.64750000000004,174.3375 Z"/><path d="M318.8,165.85 L320.9525,169.4375 L316.64750000000004,169.4375 Z"/><path d="M325.3,160.25 L327.4525,163.8375 L323.14750000000004,163.8375 Z"/><path d="M329.7,154.45 L331.85249999999996,158.0375 L327.5475,158.0375 Z"/><path d="M335.3,147.64999999999998 L337.4525,151.23749999999998 L333.14750000000004,151.23749999999998 Z"/><path d="M342.8,133.75 L344.9525,137.3375 L340.64750000000004,137.3375 Z"/><path d="M349.2,115.75 L351.35249999999996,119.33749999999999 L347.0475,119.33749999999999 Z"/><path d="M355.6,107.95 L357.7525,111.5375 L353.44750000000005,111.5375 Z"/><path d="M362.5,97.65 L364.6525,101.2375 L360.3475,101.2375 Z"/><path d="M368.8,84.85000000000001 L370.9525,88.4375 L366.64750000000004,88.4375 Z"/><path d="M375.2,79.65 L377.35249999999996,83.2375 L373.0475,83.2375 Z"/><path d="M383.8,71.55 L385.9525,75.13749999999999 L381.64750000000004,75.13749999999999 Z"/><path d="M397.8,70.85000000000001 L399.9525,74.4375 L395.64750000000004,74.4375 Z"/><path d="M411.2,68.95 L413.35249999999996,72.5375 L409.0475,72.5375 Z"/><path d="M421.9,67.75 L424.05249999999995,71.33749999999999 L419.7475,71.33749999999999 Z"/><path d="M432.6,65.35000000000001 L434.7525,68.9375 L430.44750000000005,68.9375 Z"/><path d="M442.6,65.35000000000001 L444.7525,68.9375 L440.44750000000005,68.9375 Z"/></g>
<g stroke="#1a1aff" stroke-width="0.7"><path d="M303.5,179.6V184.6M302.5,179.6H304.5M302.5,184.6H304.5"/><path d="M312.8,174.3V179.3M311.8,174.3H313.8M311.8,179.3H313.8"/><path d="M318.8,165.4V170.4M317.8,165.4H319.8M317.8,170.4H319.8"/><path d="M329.7,154.0V159.0M328.7,154.0H330.7M328.7,159.0H330.7"/><path d="M349.2,115.3V120.3M348.2,115.3H350.2M348.2,120.3H350.2"/><path d="M362.5,97.2V102.2M361.5,97.2H363.5M361.5,102.2H363.5"/><path d="M368.8,83.9V89.9M367.8,83.9H369.8M367.8,89.9H369.8"/><path d="M375.2,79.2V84.2M374.2,79.2H376.2M374.2,84.2H376.2"/><path d="M411.2,69V73M410.2,69H412.2M410.2,73H412.2"/></g>
<path d="M293.5,43.1H444.3" stroke="#6a6a6a" stroke-width="1.1"/>
<path d="M293.5,42.6V195.5H444.3V42.6" fill="none" stroke="#3a3a3a" stroke-width="1.15"/>
<path d="M293.5,195.50H297.1 M293.5,187.85H295.7 M293.5,183.38H295.7 M293.5,180.21H295.7 M293.5,177.75H295.7 M293.5,175.73H295.7 M293.5,174.03H295.7 M293.5,172.56H295.7 M293.5,171.26H295.7 M293.5,170.10H297.1 M293.5,162.45H295.7 M293.5,157.98H295.7 M293.5,154.81H295.7 M293.5,152.35H295.7 M293.5,150.33H295.7 M293.5,148.63H295.7 M293.5,147.16H295.7 M293.5,145.86H295.7 M293.5,144.70H297.1 M293.5,137.05H295.7 M293.5,132.58H295.7 M293.5,129.41H295.7 M293.5,126.95H295.7 M293.5,124.93H295.7 M293.5,123.23H295.7 M293.5,121.76H295.7 M293.5,120.46H295.7 M293.5,119.30H297.1 M293.5,111.65H295.7 M293.5,107.18H295.7 M293.5,104.01H295.7 M293.5,101.55H295.7 M293.5,99.53H295.7 M293.5,97.83H295.7 M293.5,96.36H295.7 M293.5,95.06H295.7 M293.5,93.90H297.1 M293.5,86.25H295.7 M293.5,81.78H295.7 M293.5,78.61H295.7 M293.5,76.15H295.7 M293.5,74.13H295.7 M293.5,72.43H295.7 M293.5,70.96H295.7 M293.5,69.66H295.7 M293.5,68.50H297.1 M293.5,60.85H295.7 M293.5,56.38H295.7 M293.5,53.21H295.7 M293.5,50.75H295.7 M293.5,48.73H295.7 M293.5,47.03H295.7 M293.5,45.56H295.7 M293.5,44.26H295.7 M293.5,43.10H297.1 M293.50,195.5V191.90 M296.52,195.5V193.50 M299.53,195.5V193.50 M302.55,195.5V193.50 M305.56,195.5V193.50 M308.58,195.5V193.50 M311.60,195.5V193.50 M314.61,195.5V193.50 M317.63,195.5V193.50 M320.64,195.5V193.50 M323.66,195.5V191.90 M326.68,195.5V193.50 M329.69,195.5V193.50 M332.71,195.5V193.50 M335.72,195.5V193.50 M338.74,195.5V193.50 M341.76,195.5V193.50 M344.77,195.5V193.50 M347.79,195.5V193.50 M350.80,195.5V193.50 M353.82,195.5V191.90 M356.84,195.5V193.50 M359.85,195.5V193.50 M362.87,195.5V193.50 M365.88,195.5V193.50 M368.90,195.5V193.50 M371.92,195.5V193.50 M374.93,195.5V193.50 M377.95,195.5V193.50 M380.96,195.5V193.50 M383.98,195.5V191.90 M387.00,195.5V193.50 M390.01,195.5V193.50 M393.03,195.5V193.50 M396.04,195.5V193.50 M399.06,195.5V193.50 M402.08,195.5V193.50 M405.09,195.5V193.50 M408.11,195.5V193.50 M411.12,195.5V193.50 M414.14,195.5V191.90 M417.16,195.5V193.50 M420.17,195.5V193.50 M423.19,195.5V193.50 M426.20,195.5V193.50 M429.22,195.5V193.50 M432.24,195.5V193.50 M435.25,195.5V193.50 M438.27,195.5V193.50 M441.28,195.5V193.50 M444.30,195.5V191.90" stroke="#222" stroke-width="0.9"/>
<g font-family="Liberation Serif, serif" font-weight="bold" font-size="7" fill="#111" stroke="#111" stroke-width="0.28"><text x="287" y="198.20" text-anchor="end">10</text><text x="287.4" y="195.40" font-size="4" stroke-width="0.1">-4</text><text x="287" y="172.80" text-anchor="end">10</text><text x="287.4" y="170.00" font-size="4" stroke-width="0.1">-3</text><text x="287" y="147.40" text-anchor="end">10</text><text x="287.4" y="144.60" font-size="4" stroke-width="0.1">-2</text><text x="287" y="122.00" text-anchor="end">10</text><text x="287.4" y="119.20" font-size="4" stroke-width="0.1">-1</text><text x="287" y="96.60" text-anchor="end">10</text><text x="287.4" y="93.80" font-size="4" stroke-width="0.1">0</text><text x="287" y="71.20" text-anchor="end">10</text><text x="287.4" y="68.40" font-size="4" stroke-width="0.1">1</text><text x="287" y="45.80" text-anchor="end">10</text><text x="287.4" y="43.00" font-size="4" stroke-width="0.1">2</text></g>
<g font-family="Liberation Serif, serif" font-weight="bold" font-size="7" text-anchor="middle" fill="#111" stroke="#111" stroke-width="0.28"><text x="293.50" y="202.1">0</text><text x="323.66" y="202.1">5</text><text x="353.82" y="202.1">10</text><text x="383.98" y="202.1">15</text><text x="414.14" y="202.1">20</text><text x="444.30" y="202.1">25</text></g>
<text x="338.6" y="210.2" font-family="Liberation Serif, serif" font-weight="bold" font-size="8" fill="#111" stroke="#111" stroke-width="0.28" textLength="60.4" lengthAdjust="spacing">Pressure (GPa)</text>
<g transform="translate(276.1,137.6) rotate(-90)" font-family="Liberation Serif, serif" font-weight="bold" font-size="9" fill="#111" stroke="#111" stroke-width="0.28"><text x="0" y="0" textLength="27" lengthAdjust="spacing"><tspan font-style="italic">σ</tspan> (S cm</text><text x="28" y="-4" font-size="4.4" fill="#777" stroke="none">-1</text><text x="33.6" y="0">)</text></g>
<rect x="392.5" y="171.7" width="48.1" height="16.2" fill="#fff" stroke="#333" stroke-width="0.9" rx="0.8"/>
<path d="M396.6,174.9 L398.595,178.22500000000002 L394.605,178.22500000000002 Z" fill="none" stroke="#1a1aff" stroke-width="1"/>
<circle cx="396.6" cy="183.4" r="1.7" fill="none" stroke="#ff22ff" stroke-width="1"/>
<g font-family="Liberation Serif, serif" font-weight="bold" font-size="5.3" fill="#111" stroke="#111" stroke-width="0.15"><text x="400.7" y="178.2" textLength="33" lengthAdjust="spacing">Compression</text><text x="400.7" y="185" textLength="38.8" lengthAdjust="spacing">Decompression</text></g>
</svg>
</body></html>
